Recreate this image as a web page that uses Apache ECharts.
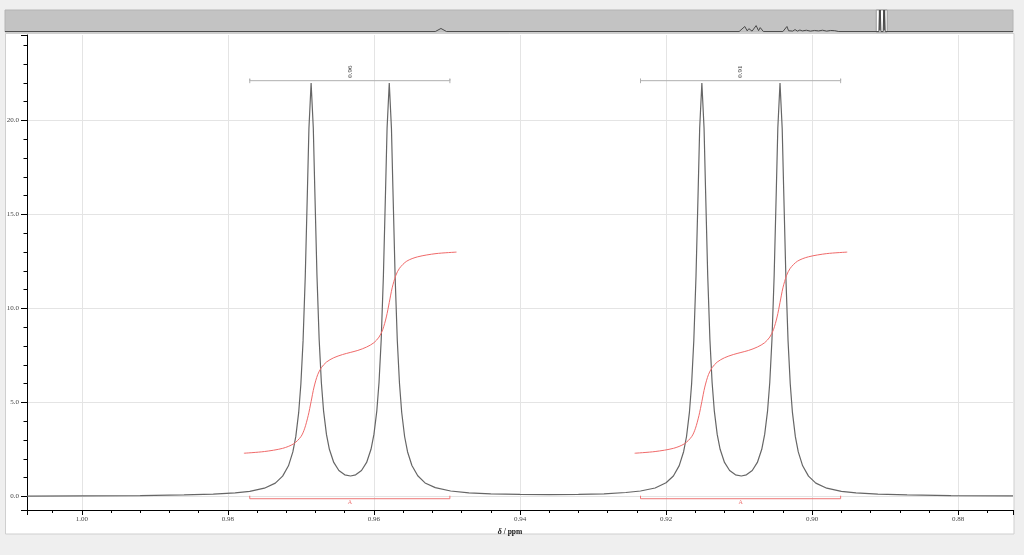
<!DOCTYPE html>
<html>
<head>
<meta charset="utf-8">
<script src="https://cdn.jsdelivr.net/npm/echarts@6.0.0/dist/echarts.min.js"></script>
<style>
html, body { margin: 0; padding: 0; background: #efefef; }
#nmrChart { width: 1024px; height: 555px; }
</style>
</head>
<body>
<div id="nmrChart"></div>
<script>
// 1H spectrum, zoom on the two doublets near 0.96 / 0.91 ppm
const spectrumPpm = [
  1.0075, 1.000, 0.992, 0.986, 0.982, 0.979, 0.977, 0.975, 0.9735, 0.9725,
  0.9717, 0.9711, 0.9707, 0.9703, 0.9700, 0.9697, 0.9694, 0.9691, 0.9689, 0.9686,
  0.9683, 0.9681, 0.9678, 0.9675, 0.9672, 0.9669, 0.9665, 0.9661, 0.9655, 0.9648,
  0.9640, 0.9632, 0.9625, 0.9617, 0.9610, 0.9604, 0.9600, 0.9596, 0.9593, 0.9590,
  0.9587, 0.9584, 0.9582, 0.9579, 0.9576, 0.9574, 0.9571, 0.9568, 0.9565, 0.9562,
  0.9558, 0.9554, 0.9548, 0.9540, 0.9530, 0.9516, 0.9495, 0.9470, 0.9440, 0.9400,
  0.9360, 0.9320, 0.9285, 0.9255, 0.9235, 0.9215, 0.9200, 0.9190, 0.9182, 0.9176,
  0.9172, 0.9168, 0.9165, 0.9162, 0.9159, 0.9156, 0.9154, 0.9151, 0.9148, 0.9146,
  0.9143, 0.9140, 0.9137, 0.9134, 0.9130, 0.9126, 0.9120, 0.9113, 0.9105, 0.9097,
  0.9090, 0.9082, 0.9075, 0.9069, 0.9065, 0.9061, 0.9058, 0.9055, 0.9052, 0.9049,
  0.9047, 0.9044, 0.9041, 0.9039, 0.9036, 0.9033, 0.9030, 0.9027, 0.9023, 0.9019,
  0.9013, 0.9005, 0.8995, 0.8980, 0.8960, 0.8940, 0.8910, 0.8870, 0.8810, 0.8730,
  0.8725
]
const spectrumIntensity = [
  0.02, 0.03, 0.05, 0.08, 0.12, 0.19, 0.27, 0.44, 0.71, 1.08,
  1.63, 2.37, 3.18, 4.47, 6.00, 8.29, 11.72, 16.36, 19.56, 22.00,
  19.59, 16.40, 11.77, 8.36, 6.08, 4.57, 3.30, 2.51, 1.81, 1.38,
  1.15, 1.09, 1.15, 1.38, 1.81, 2.51, 3.30, 4.57, 6.08, 8.36,
  11.77, 16.40, 19.59, 22.00, 19.57, 16.37, 11.73, 8.30, 6.01, 4.48,
  3.19, 2.38, 1.65, 1.10, 0.72, 0.47, 0.29, 0.19, 0.14, 0.11,
  0.10, 0.11, 0.14, 0.21, 0.29, 0.45, 0.73, 1.09, 1.64, 2.38,
  3.19, 4.49, 6.01, 8.31, 11.74, 16.38, 19.58, 22.00, 19.59, 16.40,
  11.77, 8.36, 6.08, 4.57, 3.30, 2.51, 1.81, 1.38, 1.15, 1.09,
  1.15, 1.38, 1.81, 2.51, 3.30, 4.57, 6.08, 8.36, 11.77, 16.40,
  19.59, 22.00, 19.56, 16.36, 11.72, 8.29, 6.00, 4.47, 3.18, 2.37,
  1.63, 1.08, 0.71, 0.44, 0.27, 0.19, 0.12, 0.08, 0.05, 0.03,
  0.03
]

// integral curves (same shape for both multiplets)
const integralPpmA = [0.9778, 0.9750, 0.9725, 0.9710, 0.9700, 0.9695, 0.9690, 0.9686, 0.9682, 0.9677,
  0.9672, 0.9665, 0.9655, 0.9643, 0.96325, 0.9622, 0.9610, 0.9600, 0.9593, 0.9588,
  0.9583, 0.9579, 0.9575, 0.9570, 0.9565, 0.9555, 0.9540, 0.9515, 0.9487]
const integralPpmB = [0.9243, 0.9215, 0.9190, 0.9175, 0.9165, 0.9160, 0.9155, 0.9151, 0.9147, 0.9142,
  0.9137, 0.9130, 0.9120, 0.9108, 0.90975, 0.9087, 0.9075, 0.9065, 0.9058, 0.9053,
  0.9048, 0.9044, 0.9040, 0.9035, 0.9030, 0.9020, 0.9005, 0.8980, 0.8952]
const integralValues = [2.30, 2.39, 2.56, 2.80, 3.18, 3.60, 4.30, 5.05, 5.82, 6.48,
  6.85, 7.15, 7.38, 7.55, 7.66, 7.77, 7.95, 8.18, 8.48, 8.87,
  9.55, 10.32, 11.10, 11.76, 12.14, 12.52, 12.75, 12.92, 13.00]

// multiplet / integral brackets
const bracketFrom = [0.9770, 0.9235]
const bracketTo = [0.9496, 0.8961]
const multipletLabels = ['0.96', '0.91']
const integralLabels = ['A', 'A']
const multipletLevel = 22.12
const integralLevel = -0.12

// overview strip (full spectrum)
const overviewPpm = [11.76, 6.45, 6.38, 6.31, 2.70, 2.63, 2.60, 2.58, 2.54, 2.49,
  2.46, 2.44, 2.40, 2.16, 2.11, 2.09, 2.07, 2.04, 2.01, 1.98,
  1.95, 1.92, 1.87, 1.82, 1.77, 1.72, 1.67, 1.62, 1.57, 1.52,
  1.47, 0.975, 0.9686, 0.963, 0.9579, 0.950, 0.922, 0.9151, 0.910, 0.9044,
  0.897, -0.68]
const overviewIntensity = [2, 2, 16, 2, 2, 25, 5, 15, 4, 29,
  6, 20, 2, 2, 25, 6, 15, 4, 11, 4,
  9, 5, 8, 4, 7, 5, 8, 4, 7, 6,
  2, 2, 100, 8, 100, 2, 2, 100, 8, 100,
  2, 2]

const viewMin = 0.8725
const viewMax = 1.0075

const labelFont = 'Liberation Serif'

function pairs (xs, ys) {
  let arr = []
  xs.forEach((x, i) => {
    arr.push([x, ys[i]])
  })
  return arr
}

function renderBracket (params, api, level, labels, color, up) {
  let i = params.dataIndex
  let a = api.coord([bracketFrom[i], level])
  let b = api.coord([bracketTo[i], level])
  let t = up ? -3 : 2.5
  let mid = (a[0] + b[0]) / 2
  let label
  if (up) {
    label = {
      type: 'text',
      x: mid,
      y: a[1] + 3.5,
      style: { text: labels[i], fill: color, font: '6px "' + labelFont + '"', align: 'center', verticalAlign: 'middle' }
    }
  } else {
    label = {
      type: 'text',
      x: mid,
      y: a[1] - 9,
      rotation: Math.PI / 2,
      style: { text: labels[i], fill: '#333', font: '7px "' + labelFont + '"', align: 'center', verticalAlign: 'middle' }
    }
  }
  return {
    type: 'group',
    children: [
      {
        type: 'polyline',
        shape: { points: [[a[0], a[1] + t], [a[0], a[1] - (up ? 0 : 2)], [a[0], a[1]], [b[0], b[1]], [b[0], b[1] - (up ? 0 : 2)], [b[0], b[1] + t]] },
        style: { stroke: color, lineWidth: 1, fill: null }
      },
      label
    ]
  }
}

let mychart = echarts.init(document.getElementById('nmrChart'))
let options = {
  backgroundColor: '#efefef',
  animation: false,
  graphic: [
    {
      type: 'rect',
      z: -10,
      silent: true,
      shape: { x: 5.5, y: 33.5, width: 1008.5, height: 500.5 },
      style: { fill: '#ffffff', stroke: '#cfcfcf', lineWidth: 1 }
    }
  ],
  grid: [
    { left: 27, right: 11, top: 35, bottom: 45 },
    { left: 5, right: 11, top: 10, height: 22, show: true, backgroundColor: '#c3c3c3', borderColor: '#b4b4b4', borderWidth: 1 }
  ],
  xAxis: [
    {
      type: 'value',
      gridIndex: 0,
      min: viewMin,
      max: viewMax,
      inverse: true,
      splitNumber: 7,
      name: '{d|δ} / ppm',
      nameLocation: 'middle',
      nameGap: 17,
      nameTextStyle: {
        fontFamily: labelFont,
        fontWeight: 'bold',
        fontSize: 7.5,
        color: '#111',
        padding: [0, 20, 0, 0],
        rich: { d: { fontFamily: labelFont, fontWeight: 'bold', fontStyle: 'italic', fontSize: 8, color: '#111' } }
      },
      axisLine: { show: true, onZero: false, lineStyle: { color: '#000', width: 1 } },
      axisTick: { show: true, length: 5, lineStyle: { color: '#000' } },
      minorTick: { show: true, splitNumber: 5, length: 3, lineStyle: { color: '#000' } },
      axisLabel: {
        fontFamily: labelFont,
        fontSize: 7,
        color: '#444',
        margin: 6,
        showMinLabel: false,
        showMaxLabel: false,
        formatter: (v) => v.toFixed(2)
      },
      splitLine: { show: true, showMinLine: false, showMaxLine: false, lineStyle: { color: '#e4e4e4', width: 1 } }
    },
    {
      type: 'value',
      gridIndex: 1,
      min: -0.68,
      max: 11.76,
      inverse: true,
      show: false
    }
  ],
  yAxis: [
    {
      type: 'value',
      gridIndex: 0,
      min: -0.72,
      max: 24.55,
      splitNumber: 5,
      axisLine: { show: true, onZero: false, lineStyle: { color: '#000', width: 1 } },
      axisTick: { show: true, length: 6, lineStyle: { color: '#000' } },
      minorTick: { show: true, splitNumber: 5, length: 3.5, lineStyle: { color: '#000' } },
      axisLabel: {
        fontFamily: labelFont,
        fontSize: 7,
        color: '#444',
        margin: 8,
        showMinLabel: false,
        showMaxLabel: false,
        formatter: (v) => v.toFixed(1)
      },
      splitLine: { show: true, showMinLine: false, showMaxLine: false, lineStyle: { color: '#e4e4e4', width: 1 } }
    },
    {
      type: 'value',
      gridIndex: 1,
      min: 0,
      max: 100,
      show: false
    }
  ],
  series: [
    {
      name: 'spectrum',
      type: 'line',
      xAxisIndex: 0,
      yAxisIndex: 0,
      data: pairs(spectrumPpm, spectrumIntensity),
      showSymbol: false,
      lineStyle: { color: '#666666', width: 1.2 },
      z: 3
    },
    {
      name: 'integral A',
      type: 'line',
      xAxisIndex: 0,
      yAxisIndex: 0,
      data: pairs(integralPpmA, integralValues),
      showSymbol: false,
      smooth: 0.3,
      lineStyle: { color: '#f06a6a', width: 1 },
      z: 4
    },
    {
      name: 'integral B',
      type: 'line',
      xAxisIndex: 0,
      yAxisIndex: 0,
      data: pairs(integralPpmB, integralValues),
      showSymbol: false,
      smooth: 0.3,
      lineStyle: { color: '#f06a6a', width: 1 },
      z: 4
    },
    {
      name: 'multiplets',
      type: 'custom',
      xAxisIndex: 0,
      yAxisIndex: 0,
      clip: false,
      data: pairs(bracketFrom, bracketTo),
      encode: { x: [0, 1] },
      renderItem: (params, api) => renderBracket(params, api, multipletLevel, multipletLabels, '#b0b0b0', false),
      z: 5
    },
    {
      name: 'integrals',
      type: 'custom',
      xAxisIndex: 0,
      yAxisIndex: 0,
      clip: false,
      data: pairs(bracketFrom, bracketTo),
      encode: { x: [0, 1] },
      renderItem: (params, api) => renderBracket(params, api, integralLevel, integralLabels, '#ee7777', true),
      z: 5
    },
    {
      name: 'overview',
      type: 'line',
      xAxisIndex: 1,
      yAxisIndex: 1,
      data: pairs(overviewPpm, overviewIntensity),
      showSymbol: false,
      lineStyle: { color: '#4a4a4a', width: 1 },
      markArea: {
        silent: true,
        itemStyle: { color: '#ffffff', borderColor: '#9a9a9a', borderWidth: 1 },
        data: [[{ xAxis: viewMax }, { xAxis: viewMin }]]
      }
    }
  ]
}
mychart.setOption(options)
</script>
</body>
</html>
